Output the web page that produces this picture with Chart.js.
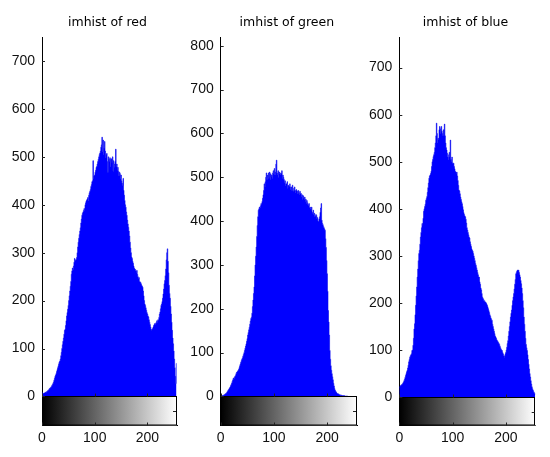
<!DOCTYPE html>
<html>
<head>
<meta charset="utf-8">
<script src="https://cdn.jsdelivr.net/npm/chart.js@4.4.0/dist/chart.umd.min.js"></script>
<style>
  html, body { margin: 0; padding: 0; background: #fff; }
  #figura { position: relative; width: 550px; height: 457px; overflow: hidden; }
  canvas { position: absolute; top: 0; }
</style>
</head>
<body>
<div id="figura">
  <canvas id="histVermelho" width="185" height="457" style="left:0px"></canvas>
  <canvas id="histVerde" width="180" height="457" style="left:185px"></canvas>
  <canvas id="histAzul" width="185" height="457" style="left:365px"></canvas>
</div>
<script>
// Niveis de cinza (0..255)
const niveis = []
for (let n = 0; n < 256; n++) niveis.push(n)

// Contagens
const contagemVermelho = [
  8, 5, 6, 6, 7, 7, 8, 9, 9, 10, 11, 12, 13, 14, 16, 17,
  18, 19, 21, 23, 25, 27, 30, 34, 38, 42, 45, 48, 52, 56, 60, 64,
  68, 72, 74, 78, 85, 92, 100, 108, 115, 122, 130, 138, 140, 148, 158, 168,
  175, 182, 190, 200, 210, 220, 230, 240, 255, 262, 268, 265, 272, 280, 288, 285,
  283, 286, 290, 300, 312, 322, 330, 338, 345, 352, 362, 370, 378, 382, 385, 388,
  392, 388, 400, 404, 408, 410, 412, 415, 408, 420, 425, 428, 432, 438, 442, 448,
  450, 492, 455, 460, 462, 468, 472, 478, 480, 485, 490, 495, 500, 505, 508, 512,
  520, 525, 541, 510, 535, 505, 518, 532, 512, 498, 505, 507, 490, 468, 500, 495,
  490, 498, 480, 495, 496, 488, 500, 470, 492, 485, 478, 490, 516, 480, 485, 472,
  478, 470, 460, 468, 465, 455, 462, 450, 445, 440, 455, 430, 420, 409, 400, 395,
  385, 378, 368, 360, 353, 345, 335, 322, 310, 300, 291, 288, 282, 278, 272, 268,
  266, 265, 262, 258, 263, 255, 250, 245, 248, 240, 239, 238, 235, 232, 230, 228,
  220, 210, 200, 193, 190, 185, 180, 175, 172, 168, 166, 160, 155, 150, 145, 140,
  138, 140, 142, 145, 148, 150, 152, 150, 153, 155, 158, 155, 160, 159, 165, 172,
  176, 183, 190, 193, 198, 205, 214, 224, 235, 242, 252, 266, 285, 300, 308, 282,
  258, 232, 215, 205, 188, 172, 155, 138, 122, 110, 95, 78, 60, 42, 27, 69
]

const contagemVerde = [
  1, 1, 2, 2, 2, 3, 3, 4, 5, 6, 7, 8, 10, 12, 14, 16,
  18, 20, 22, 25, 28, 31, 35, 38, 42, 40, 44, 46, 48, 52, 55, 56,
  58, 60, 62, 66, 70, 74, 78, 82, 85, 88, 92, 96, 100, 105, 110, 115,
  120, 126, 132, 140, 146, 152, 158, 165, 172, 178, 181, 190, 205, 220, 235, 250,
  275, 300, 320, 341, 365, 390, 410, 425, 428, 432, 430, 435, 440, 438, 445, 452,
  460, 470, 485, 478, 490, 500, 510, 495, 505, 498, 510, 500, 512, 495, 508, 501,
  505, 498, 510, 515, 508, 520, 505, 512, 530, 539, 510, 505, 515, 500, 512, 508,
  505, 510, 508, 515, 498, 505, 500, 495, 488, 492, 480, 485, 485, 490, 475, 482,
  480, 478, 485, 472, 478, 478, 470, 482, 475, 468, 470, 478, 465, 470, 472, 470,
  468, 462, 470, 465, 460, 468, 462, 463, 455, 460, 450, 458, 452, 448, 455, 445,
  450, 440, 447, 442, 438, 435, 440, 430, 432, 428, 425, 432, 420, 418, 425, 415,
  418, 410, 412, 415, 413, 405, 408, 400, 398, 405, 410, 420, 430, 440, 402, 395,
  392, 388, 385, 382, 379, 360, 340, 310, 280, 240, 196, 170, 140, 105, 85, 70,
  60, 52, 45, 38, 30, 24, 18, 14, 12, 10, 8, 7, 6, 6, 5, 4,
  4, 3, 3, 3, 2, 2, 2, 2, 2, 1, 1, 1, 1, 1, 1, 0,
  0, 0, 0, 0, 0, 0, 0, 0, 0, 0, 0, 0, 0, 0, 0, 0
]

const contagemAzul = [
  20, 22, 24, 25, 26, 27, 28, 30, 32, 35, 38, 42, 46, 50, 54, 57,
  62, 68, 75, 80, 85, 88, 90, 92, 99, 100, 110, 125, 145, 156, 175, 195,
  215, 234, 255, 272, 290, 305, 312, 325, 340, 350, 360, 369, 365, 380, 395, 400,
  405, 410, 418, 422, 426, 435, 445, 455, 465, 470, 472, 475, 480, 490, 500, 505,
  511, 515, 520, 530, 540, 555, 582, 560, 540, 550, 546, 568, 575, 560, 570, 575,
  565, 560, 555, 568, 560, 580, 555, 540, 530, 525, 518, 510, 505, 515, 520, 510,
  546, 505, 500, 510, 498, 495, 497, 490, 485, 480, 478, 475, 478, 470, 460, 450,
  440, 438, 432, 425, 420, 415, 411, 405, 398, 392, 388, 385, 383, 378, 370, 360,
  355, 350, 345, 340, 338, 330, 325, 320, 315, 312, 310, 305, 300, 295, 290, 284,
  280, 275, 270, 265, 260, 255, 255, 245, 240, 232, 228, 220, 213, 210, 208, 205,
  205, 202, 202, 200, 198, 195, 192, 188, 184, 180, 175, 172, 168, 165, 163, 155,
  150, 145, 140, 135, 130, 128, 125, 122, 120, 118, 116, 114, 112, 108, 105, 102,
  100, 99, 95, 92, 88, 85, 88, 92, 95, 100, 106, 114, 120, 130, 140, 150,
  160, 170, 178, 185, 195, 205, 213, 220, 230, 240, 250, 262, 265, 268, 270, 268,
  270, 265, 260, 255, 248, 241, 232, 220, 205, 190, 170, 155, 140, 125, 112, 105,
  99, 90, 80, 70, 60, 50, 43, 35, 28, 22, 18, 15, 12, 10, 8, 6
]

// Ticks
const ticksX = [0, 100, 200]
const ticksYVermelho = [0, 100, 200, 300, 400, 500, 600, 700]
const ticksYVerde = [0, 100, 200, 300, 400, 500, 600, 700, 800]
const ticksYAzul = [0, 100, 200, 300, 400, 500, 600, 700]

const titulos = ["imhist of red", "imhist of green", "imhist of blue"]

// Barra de cinza, ticks internos e titulo
const pluginMatlab = {
  id: "matlab",
  afterDraw(chart, args, opts) {
    const { ctx, chartArea } = chart
    const { left, right, top, bottom } = chartArea
    const sx = chart.scales.x
    const sy = chart.scales.y
    const zero = Math.round(sy.getPixelForValue(0)) + 0.5
    ctx.save()
    const grad = ctx.createLinearGradient(left, 0, right, 0)
    grad.addColorStop(0, "#000")
    grad.addColorStop(1, "#fff")
    ctx.fillStyle = grad
    ctx.fillRect(left, zero, right - left, bottom - zero)
    ctx.strokeStyle = "#000"
    ctx.lineWidth = 1
    ctx.strokeRect(Math.round(left) + 0.5, zero, Math.round(right - left) - 1, Math.round(bottom - zero) - 0.5)
    // ticks para dentro
    ctx.strokeStyle = "#222"
    ctx.beginPath()
    opts.ticksY.forEach(v => {
      const py = Math.round(sy.getPixelForValue(v)) + 0.5
      ctx.moveTo(left, py)
      ctx.lineTo(left + 3, py)
    })
    ticksX.forEach(v => {
      const px = Math.round(sx.getPixelForValue(v)) + 0.5
      ctx.moveTo(px, zero)
      ctx.lineTo(px, zero - 3)
      ctx.moveTo(px, bottom)
      ctx.lineTo(px, bottom - 3)
    })
    const meio = Math.round((zero + bottom) / 2) + 0.5
    ctx.moveTo(right - 1, meio)
    ctx.lineTo(right - 4, meio)
    ctx.stroke()
    // titulo
    ctx.fillStyle = "#000"
    ctx.font = "12.5px 'DejaVu Sans'"
    ctx.textAlign = "center"
    ctx.textBaseline = "alphabetic"
    ctx.fillText(opts.texto, (left + right) / 2 - 2, 26)
    ctx.restore()
  }
}

function desenhaHistograma({ id, contagem, ticksY, yMin, yMax, larguraEixo, direita, titulo }) {
  const ctx = document.getElementById(id).getContext("2d")
  return new Chart(ctx, {
    type: "line",
    data: {
      datasets: [{
        data: niveis.map((n, i) => ({ x: n, y: contagem[i] })),
        stepped: "middle",
        fill: "origin",
        backgroundColor: "#0000ff",
        borderColor: "#0000ee",
        borderWidth: 0.6,
        pointRadius: 0
      }]
    },
    options: {
      responsive: false,
      animation: false,
      devicePixelRatio: 1,
      layout: { padding: { top: 37, right: direita, left: 0, bottom: 0 } },
      plugins: {
        legend: { display: false },
        tooltip: { enabled: false },
        title: { display: false },
        matlab: { texto: titulo, ticksY }
      },
      scales: {
        x: {
          type: "linear",
          min: 0,
          max: 256,
          afterBuildTicks: s => { s.ticks = ticksX.map(v => ({ value: v })) },
          afterFit: s => { s.height = 31.5 },
          grid: { display: false, drawTicks: false },
          border: { display: true, color: "#000" },
          ticks: {
            padding: 4,
            maxRotation: 0,
            autoSkip: false,
            color: "#111",
            font: { family: "Liberation Sans", size: 14 }
          }
        },
        y: {
          min: yMin,
          max: yMax,
          afterBuildTicks: s => { s.ticks = ticksY.map(v => ({ value: v })) },
          afterFit: s => { s.width = larguraEixo },
          grid: { display: false, drawTicks: false },
          border: { display: true, color: "#000" },
          ticks: {
            padding: 7,
            color: "#111",
            font: { family: "Liberation Sans", size: 14 }
          }
        }
      }
    },
    plugins: [pluginMatlab]
  })
}

desenhaHistograma({
  id: "histVermelho", contagem: contagemVermelho, ticksY: ticksYVermelho,
  yMin: -60.6, yMax: 750, larguraEixo: 42, direita: 8, titulo: titulos[0]
})
desenhaHistograma({
  id: "histVerde", contagem: contagemVerde, ticksY: ticksYVerde,
  yMin: -66.2, yMax: 820, larguraEixo: 35.7, direita: 8, titulo: titulos[1]
})
desenhaHistograma({
  id: "histAzul", contagem: contagemAzul, ticksY: ticksYAzul,
  yMin: -60.2, yMax: 765, larguraEixo: 34.3, direita: 14.3, titulo: titulos[2]
})
</script>
</body>
</html>
